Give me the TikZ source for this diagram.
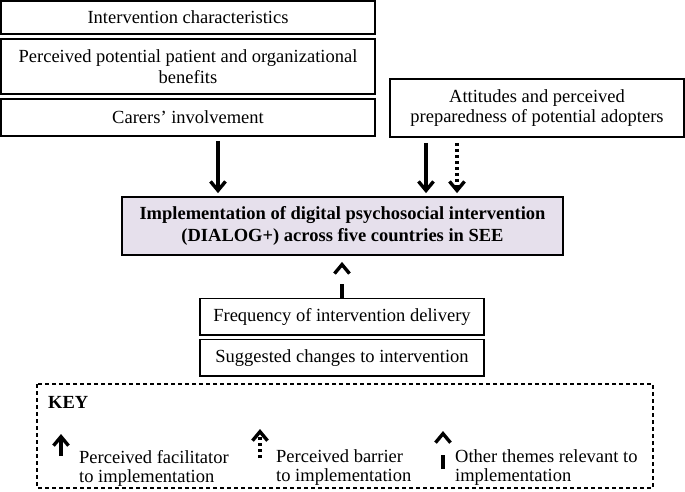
\documentclass[tikz,border=0pt]{standalone}
\usepackage{fontspec}
\setmainfont{Liberation Serif}
\usetikzlibrary{arrows.meta}
\definecolor{mainfill}{RGB}{230,224,236}
\tikzset{
  box/.style={draw=black, line width=1.8pt, inner sep=0pt, align=center,
    font=\fontsize{18.5}{20.5}\selectfont},
  barb/.tip={Straight Barb[length=9pt,width=15pt]},
  facil/.style={line width=3.4pt, -{barb}},
  barrier/.style={line width=3.4pt, dash pattern=on 3pt off 3pt, -{barb}},
  other/.style={line width=3.4pt, dash pattern=on 14pt off 40pt, -{barb}},
  keytext/.style={inner sep=0pt, align=left, anchor=west,
    font=\fontsize{18.5}{19}\selectfont},
}
\begin{document}
\begin{tikzpicture}[x=1pt,y=-1pt]
\useasboundingbox (0,0) rectangle (685,491);
\node[box, minimum width=374pt, minimum height=33pt] (b1) at (188,17.5) {Intervention characteristics};
\node[box, minimum width=374pt, minimum height=55pt] (b2) at (188,66.5) {Perceived potential patient and organizational\\benefits};
\node[box, minimum width=374pt, minimum height=37pt] (b3) at (188,117.5) {Carers’ involvement};
\node[box, minimum width=294pt, minimum height=58pt] (att) at (537,108) {Attitudes and perceived\\preparedness of potential adopters};
\node[box, fill=mainfill, minimum width=441pt, minimum height=58pt,
  font=\bfseries\fontsize{18.5}{21.5}\selectfont] (main) at (342.5,226)
  {Implementation of digital psychosocial intervention\\(DIALOG+) across five countries in SEE};
\node[box, minimum width=284pt, minimum height=36.5pt] (freq) at (342,316.75) {Frequency of intervention delivery};
\node[box, minimum width=284pt, minimum height=36.5pt] (sugg) at (342,357.75) {Suggested changes to intervention};

\draw[facil] ([xshift=30pt,yshift=-4pt]b3.south) -- ([xshift=-124.5pt,yshift=3pt]main.north);
\draw[facil] ([xshift=-111pt,yshift=-5pt]att.south) -- ([xshift=83.5pt,yshift=3pt]main.north);
\draw[barrier] ([xshift=-80pt,yshift=-5pt]att.south) -- ([xshift=114.5pt,yshift=3pt]main.north);
\draw[other] (freq.north) -- ([xshift=-0.5pt,yshift=-6pt]main.south);

% key
\draw[line width=1.4pt, dash pattern=on 4pt off 3pt] (37,384) rectangle (653,488);
\node[inner sep=0pt, anchor=base west, font=\bfseries\fontsize{18.5}{20}\selectfont] (keyt) at (48,408) {KEY};
\coordinate (f1) at (61,456); \coordinate (f2) at (61,434);
\coordinate (r1) at (260,458); \coordinate (r2) at (260,429);
\coordinate (o1) at (443,469); \coordinate (o2) at (443,431);
\draw[facil] (f1) -- (f2);
\draw[barrier] (r1) -- (r2);
\draw[line width=3.4pt, dash pattern=on 14pt off 40pt, -{barb}] (o1) -- (o2);
\node[keytext] (kf) at (79,468) {Perceived facilitator\\to implementation};
\node[keytext] (kb) at (276,468) {Perceived barrier\\to implementation};
\node[keytext] (ko) at (455,468) {Other themes relevant to\\implementation};
\end{tikzpicture}
\end{document}
